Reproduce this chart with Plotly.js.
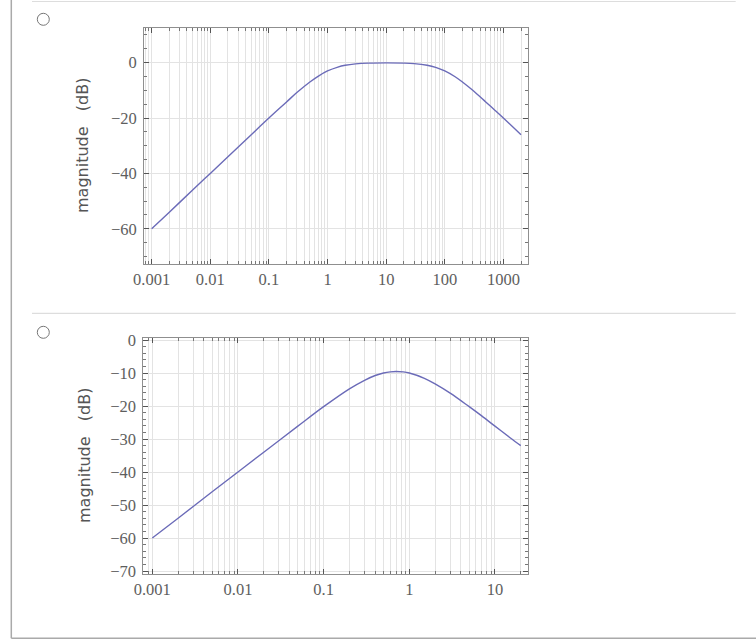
<!DOCTYPE html>
<html>
<head>
<meta charset="utf-8">
<script src="https://cdn.plot.ly/plotly-3.0.1.min.js"></script>
<style>
  html, body { margin: 0; padding: 0; background: #fff; overflow: hidden; }
  #chart { width: 756px; height: 639px; }
</style>
</head>
<body>
<div id="chart"></div>
<script>
// ---- Data ----
// Plot 1 (top): band-pass response
const freq1 = [0.001, 0.002, 0.005, 0.01, 0.02, 0.05, 0.1, 0.2, 0.3, 0.5, 0.7, 1, 1.5, 2, 3, 5, 10,
               20, 30, 50, 70, 100, 150, 200, 300, 500, 700, 1000, 1500, 2000];
const mag1  = [-60.0, -54.0, -46.0, -40.0, -34.0, -26.0, -20.0, -14.2, -10.8, -7.0, -4.85, -3.0, -1.6, -0.97, -0.46, -0.18, -0.09,
               -0.18, -0.37, -0.97, -1.72, -3.0, -5.1, -7.0, -10.0, -14.2, -17.0, -20.0, -23.5, -26.0];

// Plot 2 (bottom): resonant peak response
const freq2 = [0.001, 0.002, 0.005, 0.01, 0.02, 0.05, 0.1, 0.2, 0.3, 0.4, 0.5, 0.6, 0.7, 0.85, 1, 1.5, 2, 3, 5, 7, 10, 15, 20];
const mag2  = [-60.0, -54.0, -46.0, -40.0, -34.0, -26.1, -20.2, -14.8, -12.2, -10.75, -10.0, -9.65, -9.54, -9.67, -10.0, -11.6, -13.3, -16.1, -20.2, -23.0, -26.1, -29.6, -32.0];

// Tick labels
const xTickVals1 = [0.001, 0.01, 0.1, 1, 10, 100, 1000];
const xTickText1 = ["0.001", "0.01", "0.1", "1", "10", "100", "1000"];
const xTickVals2 = [0.001, 0.01, 0.1, 1, 10];
const xTickText2 = ["0.001", "0.01", "0.1", "1", "10"];
const yTitle = "magnitude\u00A0\u00A0\u00A0(dB)";

// ---- Layout helpers (pixel -> paper) ----
const W = 756, H = 639;
const px = v => v / W;
const py = v => 1 - v / H;

const lineColor = "#6b6bb8";
const frameColor = "#8f8f8f";
const gridColor = "#e3e3e3";
const tickFont = { family: "Liberation Serif, Times New Roman, serif", size: 16.5, color: "#5e5e5e" };
const titleFont = { family: "DejaVu Sans, sans-serif", size: 16, color: "#555555" };

function xAxis(tv, tt, range, anchor) {
  return {
    type: "log", range: range, anchor: anchor,
    tickmode: "array", tickvals: tv, ticktext: tt,
    ticks: "inside", ticklen: 5, tickcolor: "#555", tickwidth: 1,
    showline: true, linecolor: frameColor, linewidth: 1, mirror: "ticks",
    showgrid: true, gridcolor: gridColor, gridwidth: 1,
    zeroline: false,
    minor: { dtick: "D1", ticks: "inside", ticklen: 3, tickcolor: "#777", showgrid: true, gridcolor: gridColor, gridwidth: 1 },
    tickfont: tickFont, ticklabelstandoff: 0,
    fixedrange: true
  };
}
function yAxis(range, dtick, minorDtick, anchor) {
  return {
    range: range, anchor: anchor, tick0: 0, dtick: dtick,
    ticks: "inside", ticklen: 5, tickcolor: "#555", tickwidth: 1,
    showline: true, linecolor: frameColor, linewidth: 1, mirror: "ticks",
    showgrid: true, gridcolor: gridColor, gridwidth: 1,
    zeroline: false,
    minor: { dtick: minorDtick, tick0: 0, ticks: "inside", ticklen: 3, tickcolor: "#777", showgrid: false },
    tickfont: tickFont, ticklabelstandoff: 3,
    fixedrange: true
  };
}

const traces = [
  { x: freq1, y: mag1, xaxis: "x", yaxis: "y", mode: "lines", line: { color: lineColor, width: 1.4, shape: "spline", smoothing: 1 }, hoverinfo: "skip" },
  { x: freq2, y: mag2, xaxis: "x2", yaxis: "y2", mode: "lines", line: { color: lineColor, width: 1.4, shape: "spline", smoothing: 1 }, hoverinfo: "skip" }
];

const top1 = 28, bot1 = 264, top2 = 337.7, bot2 = 574.3;
const left = 144, right = 528;

const layout = {
  width: W, height: H,
  margin: { l: 0, r: 0, t: 0, b: 0 },
  paper_bgcolor: "#ffffff", plot_bgcolor: "#ffffff",
  showlegend: false,
  xaxis: Object.assign(xAxis(xTickVals1, xTickText1, [Math.log10(0.00074), Math.log10(2630)], "y"), { domain: [px(left), px(right)] }),
  yaxis: Object.assign(yAxis([-72.7, 12.5], 20, 5, "x"), { domain: [py(bot1), py(top1)] }),
  xaxis2: Object.assign(xAxis(xTickVals2, xTickText2, [-3.105, 1.389], "y2"), { domain: [px(143.3), px(528.3)] }),
  yaxis2: Object.assign(yAxis([-71.0, 0.7], 10, 2, "x2"), { domain: [py(bot2), py(top2)] }),
  annotations: [
    { text: yTitle, xref: "paper", yref: "paper", x: px(83), y: py((top1 + bot1) / 2), textangle: -90, showarrow: false,
      font: titleFont, xanchor: "center", yanchor: "middle" },
    { text: yTitle, xref: "paper", yref: "paper", x: px(84), y: py((top2 + bot2) / 2), textangle: -90, showarrow: false,
      font: titleFont, xanchor: "center", yanchor: "middle" }
  ],
  shapes: [
    // page frame: left and bottom borders
    { type: "line", xref: "paper", yref: "paper", x0: px(11.3), x1: px(11.3), y0: py(0), y1: py(638.3), line: { color: "#aaaaaa", width: 1.5 } },
    { type: "line", xref: "paper", yref: "paper", x0: px(11.3), x1: px(756), y0: py(638.3), y1: py(638.3), line: { color: "#aaaaaa", width: 1.5 } },
    // separators
    { type: "line", xref: "paper", yref: "paper", x0: px(32), x1: px(735.7), y0: py(1.5), y1: py(1.5), line: { color: "#dddddd", width: 1.2 } },
    { type: "line", xref: "paper", yref: "paper", x0: px(32), x1: px(735.7), y0: py(313.3), y1: py(313.3), line: { color: "#dddddd", width: 1.2 } },
    // radio buttons
    { type: "circle", xref: "paper", yref: "paper", x0: px(37.3), x1: px(49.3), y0: py(25.3), y1: py(13.3), line: { color: "#777777", width: 1 }, fillcolor: "#ffffff" },
    { type: "circle", xref: "paper", yref: "paper", x0: px(37.3), x1: px(49.3), y0: py(338.3), y1: py(326.3), line: { color: "#777777", width: 1 }, fillcolor: "#ffffff" }
  ]
};

Plotly.newPlot("chart", traces, layout, { staticPlot: true, displayModeBar: false });
</script>
</body>
</html>
